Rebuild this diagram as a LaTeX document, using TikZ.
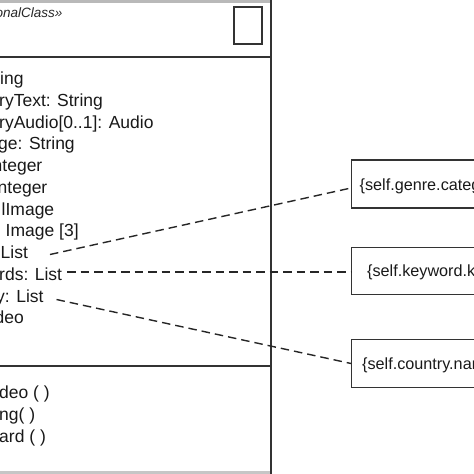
\documentclass[tikz,border=0pt]{standalone}
\usepackage{fontspec}
\setmainfont{Liberation Sans}
\usetikzlibrary{positioning,calc}

\begin{document}
\begin{tikzpicture}[x=1pt,y=-1pt,
  frame/.style={draw=black!80,line width=1.4pt},
  attr/.style={anchor=base west,inner sep=0pt,text=black!90,font=\fontsize{17.5}{21}\selectfont},
  cbox/.style={draw=black!80,line width=1.4pt,minimum width=160pt,anchor=west,inner sep=0pt},
  ctext/.style={anchor=base west,inner sep=0pt,text=black!90,font=\fontsize{16.2}{19}\selectfont},
  link/.style={draw=black!85,line width=1.4pt,dash pattern=on 8.5pt off 5pt}]
  \useasboundingbox (0,0) rectangle (474,474);

  % class box, only its right part is in view
  \draw[draw=gray!55,line width=3pt] (-10,1.5) -- (271,1.5);
  \draw[draw=gray!45,line width=2.5pt] (-10,472.5) -- (271,472.5);
  \draw[frame] (271,-2) -- (271,476);
  \draw[frame] (-10,57) -- (271,57);
  \draw[frame] (-10,366) -- (271,366);
  \node[anchor=base west,inner sep=0pt,text=black!85,font=\fontsize{13.5}{16}\selectfont\itshape] (stereo) at (-4.5,17.5) {onalClass»};
  \node[frame,minimum width=28pt,minimum height=37pt,inner sep=0pt] (icon) at (248,25.5) {};

  % attributes
  \foreach \x/\t [count=\i] in {0/ing, -1/ryText: String, -1/ryAudio[0..1]: Audio, -2/ge: String,
      -7.5/nteger, -2.5/nteger, 1.5/lImage, 5.5/Image [3], 0.5/List, -1/rds: List, -4/y: List, -5.5/deo} {
    \node[attr] (a\i) at (\x,{84.5+21.75*(\i-1)}) {\t};
  }
  % operations
  \foreach \t [count=\i] in {deo ( ), ng( ), ard ( )} {
    \node[attr] (o\i) at (-1,{376.5+22*\i}) {\t};
  }

  % constraints
  \node[cbox,minimum height=48pt] (c1) at (351,184) {};
  \node[cbox,minimum height=47pt] (c2) at (351,271) {};
  \node[cbox,minimum height=48pt] (c3) at (351,363.5) {};
  \node[ctext] (t1) at (359.5,190) {\{self.genre.categ};
  \node[ctext] (t2) at (367,276.5) {\{self.keyword.k};
  \node[ctext] (t3) at (362,369) {\{self.country.nam};

  \coordinate (s1) at (50,254.5);
  \coordinate (s2) at (67,272);
  \coordinate (s3) at (56.5,299.5);
  \draw[link] (s1) -- ([yshift=-4pt]c1.west);
  \draw[link] (s2) -- ([yshift=-1pt]c2.west);
  \draw[link] (s3) -- (c3.west);
\end{tikzpicture}
\end{document}
